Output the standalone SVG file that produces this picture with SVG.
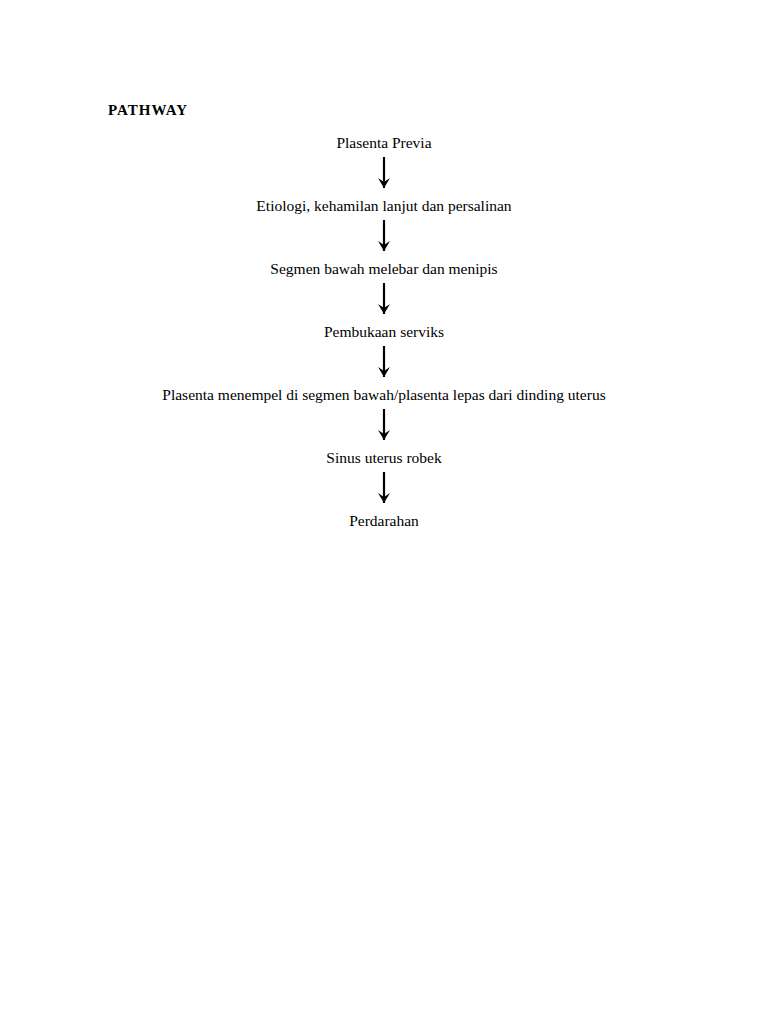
<svg xmlns="http://www.w3.org/2000/svg" width="768" height="1024" viewBox="0 0 768 1024">
<style>
text{font-family:"Liberation Serif",serif;font-size:15.5px;fill:#000;text-anchor:middle}
.c line{stroke:#000;stroke-width:2.2}
</style>
<defs><marker id="h" viewBox="0 0 12 12" refX="11" refY="6" markerWidth="12" markerHeight="12" markerUnits="userSpaceOnUse" orient="auto"><path d="M1,0 L11,6 L1,12 L5,6z" fill="#000"/></marker></defs>
<rect width="768" height="1024" fill="#fff"/>
<text x="108" y="115" style="text-anchor:start;font-weight:bold;font-size:15px;letter-spacing:1px">PATHWAY</text>
<g id="n1"><text x="384" y="148">Plasenta Previa</text></g>
<g id="n2"><text x="384" y="211">Etiologi, kehamilan lanjut dan persalinan</text></g>
<g id="n3"><text x="384" y="274">Segmen bawah melebar dan menipis</text></g>
<g id="n4"><text x="384" y="337">Pembukaan serviks</text></g>
<g id="n5"><text x="384" y="400">Plasenta menempel di segmen bawah/plasenta lepas dari dinding uterus</text></g>
<g id="n6"><text x="384" y="463">Sinus uterus robek</text></g>
<g id="n7"><text x="384" y="526">Perdarahan</text></g>
<g class="c">
<line x1="384" y1="157" x2="384" y2="188" marker-end="url(#h)"/>
<line x1="384" y1="220" x2="384" y2="251" marker-end="url(#h)"/>
<line x1="384" y1="283" x2="384" y2="314" marker-end="url(#h)"/>
<line x1="384" y1="346" x2="384" y2="377" marker-end="url(#h)"/>
<line x1="384" y1="409" x2="384" y2="440" marker-end="url(#h)"/>
<line x1="384" y1="472" x2="384" y2="503" marker-end="url(#h)"/>
</g>
</svg>
